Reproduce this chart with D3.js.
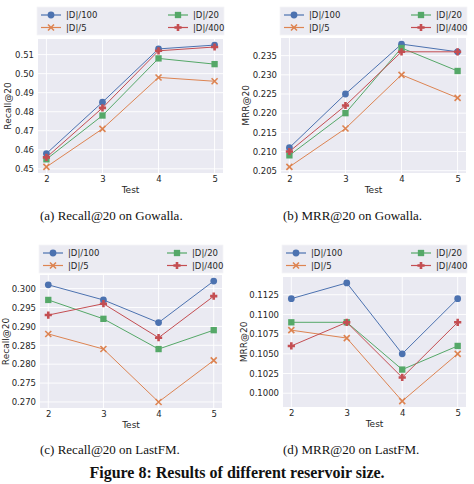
<!DOCTYPE html>
<html>
<head>
<meta charset="utf-8">
<script src="https://cdn.jsdelivr.net/npm/d3@7"></script>
<style>
  body { margin: 0; background: #fff; }
  svg { display: block; }
  .tick text { font-family: "DejaVu Sans", sans-serif; font-size: 8.5px; fill: #262626; }
</style>
</head>
<body>
<div id="fig"></div>
<script>
var tests = [2, 3, 4, 5];
var seriesNames = ["|D|/100", "|D|/5", "|D|/20", "|D|/400"];

// (a) Recall@20 on Gowalla
var recallGowalla100 = [0.458, 0.485, 0.513, 0.515];
var recallGowalla5   = [0.451, 0.471, 0.498, 0.496];
var recallGowalla20  = [0.455, 0.478, 0.508, 0.505];
var recallGowalla400 = [0.456, 0.482, 0.512, 0.514];
var recallGowallaTicks = [0.45, 0.46, 0.47, 0.48, 0.49, 0.50, 0.51];

// (b) MRR@20 on Gowalla
var mrrGowalla100 = [0.211, 0.225, 0.238, 0.236];
var mrrGowalla5   = [0.206, 0.216, 0.230, 0.224];
var mrrGowalla20  = [0.209, 0.220, 0.237, 0.231];
var mrrGowalla400 = [0.210, 0.222, 0.236, 0.236];
var mrrGowallaTicks = [0.205, 0.210, 0.215, 0.220, 0.225, 0.230, 0.235];

// (c) Recall@20 on LastFM
var recallLastfm100 = [0.301, 0.297, 0.291, 0.302];
var recallLastfm5   = [0.288, 0.284, 0.270, 0.281];
var recallLastfm20  = [0.297, 0.292, 0.284, 0.289];
var recallLastfm400 = [0.293, 0.296, 0.287, 0.298];
var recallLastfmTicks = [0.270, 0.275, 0.280, 0.285, 0.290, 0.295, 0.300];

// (d) MRR@20 on LastFM
var mrrLastfm100 = [0.1120, 0.1140, 0.1050, 0.1120];
var mrrLastfm5   = [0.1080, 0.1070, 0.0990, 0.1050];
var mrrLastfm20  = [0.1090, 0.1090, 0.1030, 0.1060];
var mrrLastfm400 = [0.1060, 0.1090, 0.1020, 0.1090];
var mrrLastfmTicks = [0.1000, 0.1025, 0.1050, 0.1075, 0.1100, 0.1125];

var captions = ["(a)  Recall@20 on Gowalla.", "(b)  MRR@20 on Gowalla.",
                "(c)  Recall@20 on LastFM.", "(d)  MRR@20 on LastFM."];
var figTitle = "Figure 8: Results of different reservoir size.";

var colors = ["#4C72B0", "#DD8452", "#55A868", "#C44E52"];
var markers = ["circle", "x", "square", "plus"];

var svg = d3.select('#fig').append('svg')
  .attr('width', 474)
  .attr('height', 484);
svg.append('rect').attr('width', 474).attr('height', 484).attr('fill', '#fff');

function markerPath(type) {
  if (type === "circle") return d3.symbol(d3.symbolCircle, 36)();
  if (type === "square") return d3.symbol(d3.symbolSquare, 40)();
  if (type === "x") return "M-3,-3L3,3M-3,3L3,-3";
  // filled plus ("P")
  var a = 1.3, b = 3.6;
  return "M" + -a + "," + -b + "H" + a + "V" + -a + "H" + b + "V" + a + "H" + a + "V" + b +
         "H" + -a + "V" + a + "H" + -b + "V" + -a + "H" + -a + "Z";
}

function drawMarker(g, type, color, x, y) {
  var p = g.append('path')
    .attr('d', markerPath(type))
    .attr('transform', 'translate(' + x + ',' + y + ')');
  if (type === "x") {
    p.attr('fill', 'none').attr('stroke', color).attr('stroke-width', 1.6);
  } else {
    p.attr('fill', color);
  }
}

function drawPanel(opts) {
  var series = opts.series;
  var all = [].concat.apply([], series);
  var ext = d3.extent(all);
  var pad = (ext[1] - ext[0]) * 0.05;

  var x = d3.scaleLinear().domain([2 - 0.15, 5 + 0.15]).range([opts.left, opts.right]);
  var y = d3.scaleLinear().domain([ext[0] - pad, ext[1] + pad]).range([opts.bottom, opts.top]);

  var g = svg.append('g');

  // legend box above the axes
  var lg = g.append('g');
  lg.append('rect')
    .attr('x', opts.left - 1).attr('y', opts.legendTop)
    .attr('width', opts.right - opts.left + 2).attr('height', 28)
    .attr('fill', '#EBEBF2').attr('stroke', '#f4f4f8').attr('stroke-width', 0.8);

  seriesNames.forEach(function (name, i) {
    var col = Math.floor(i / 2), row = i % 2;
    var lx = col === 0 ? opts.left + 3 : opts.right - 55;
    var ly = opts.legendTop + 8 + row * 12.5;
    lg.append('line')
      .attr('x1', lx).attr('x2', lx + 20).attr('y1', ly).attr('y2', ly)
      .attr('stroke', colors[i]).attr('stroke-width', 1.2);
    drawMarker(lg, markers[i], colors[i], lx + 10, ly);
    lg.append('text')
      .attr('x', lx + 25).attr('y', ly + 3)
      .style('font-family', '"DejaVu Sans", sans-serif')
      .style('font-size', '8.5px')
      .attr('fill', '#262626')
      .text(name);
  });

  // plot background
  g.append('rect')
    .attr('x', opts.left).attr('y', opts.top)
    .attr('width', opts.right - opts.left).attr('height', opts.bottom - opts.top)
    .attr('fill', '#EAEAF2');

  // grid
  g.append('g').selectAll('line').data(opts.ticks).enter().append('line')
    .attr('x1', opts.left).attr('x2', opts.right)
    .attr('y1', (d) => y(d)).attr('y2', (d) => y(d))
    .attr('stroke', '#fff').attr('stroke-width', 0.9);
  g.append('g').selectAll('line').data(tests).enter().append('line')
    .attr('y1', opts.top).attr('y2', opts.bottom)
    .attr('x1', (d) => x(d)).attr('x2', (d) => x(d))
    .attr('stroke', '#fff').attr('stroke-width', 0.9);

  // axes (no tick marks, seaborn darkgrid)
  var yAxis = d3.axisLeft(y).tickValues(opts.ticks)
    .tickFormat((d) => d.toFixed(opts.digits))
    .tickSize(0).tickPadding(4);
  g.append('g').attr('transform', 'translate(' + opts.left + ',0)').call(yAxis)
    .call((s) => s.select('.domain').remove());
  var xAxis = d3.axisBottom(x).tickValues(tests).tickFormat(d3.format('d'))
    .tickSize(0).tickPadding(3);
  g.append('g').attr('transform', 'translate(0,' + opts.bottom + ')').call(xAxis)
    .call((s) => s.select('.domain').remove());

  // axis labels
  g.append('text')
    .attr('x', (opts.left + opts.right) / 2).attr('y', opts.bottom + 20)
    .attr('text-anchor', 'middle')
    .style('font-family', '"DejaVu Sans", sans-serif').style('font-size', '9px')
    .attr('fill', '#262626').text('Test');
  g.append('text')
    .attr('transform', 'translate(' + opts.ylabelX + ',' + ((opts.top + opts.bottom) / 2) + ') rotate(-90)')
    .attr('text-anchor', 'middle')
    .style('font-family', '"DejaVu Sans", sans-serif').style('font-size', '9px')
    .attr('fill', '#262626').text(opts.ylabel);

  // lines and markers
  var line = d3.line().x((d, i) => x(tests[i])).y((d) => y(d));
  series.forEach(function (vals, i) {
    g.append('path')
      .attr('d', line(vals))
      .attr('fill', 'none')
      .attr('stroke', colors[i])
      .attr('stroke-width', 1);
    vals.forEach(function (v, j) {
      drawMarker(g, markers[i], colors[i], x(tests[j]), y(v));
    });
  });

  // caption
  svg.append('text')
    .attr('x', opts.capX).attr('y', opts.capY)
    .style('font-family', '"Liberation Serif", serif').style('font-size', '13px')
    .attr('fill', '#111')
    .text(opts.caption);
}

drawPanel({
  series: [recallGowalla100, recallGowalla5, recallGowalla20, recallGowalla400],
  ticks: recallGowallaTicks, digits: 2, ylabel: 'Recall@20',
  left: 38, right: 223, top: 39, bottom: 173, legendTop: 7, ylabelX: 11,
  caption: captions[0], capX: 40, capY: 220
});
drawPanel({
  series: [mrrGowalla100, mrrGowalla5, mrrGowalla20, mrrGowalla400],
  ticks: mrrGowallaTicks, digits: 3, ylabel: 'MRR@20',
  left: 281, right: 466, top: 38, bottom: 173, legendTop: 7, ylabelX: 249,
  caption: captions[1], capX: 283, capY: 220
});
drawPanel({
  series: [recallLastfm100, recallLastfm5, recallLastfm20, recallLastfm400],
  ticks: recallLastfmTicks, digits: 3, ylabel: 'Recall@20',
  left: 40, right: 222, top: 275, bottom: 408, legendTop: 245, ylabelX: 9,
  caption: captions[2], capX: 40, capY: 454
});
drawPanel({
  series: [mrrLastfm100, mrrLastfm5, mrrLastfm20, mrrLastfm400],
  ticks: mrrLastfmTicks, digits: 4, ylabel: 'MRR@20',
  left: 283, right: 466, top: 277, bottom: 407, legendTop: 245, ylabelX: 247,
  caption: captions[3], capX: 283, capY: 454
});

svg.append('text')
  .attr('x', 237).attr('y', 478)
  .attr('text-anchor', 'middle')
  .style('font-family', '"Liberation Serif", serif').style('font-size', '16px')
  .style('font-weight', 'bold')
  .attr('fill', '#111')
  .text(figTitle);
</script>
</body>
</html>
